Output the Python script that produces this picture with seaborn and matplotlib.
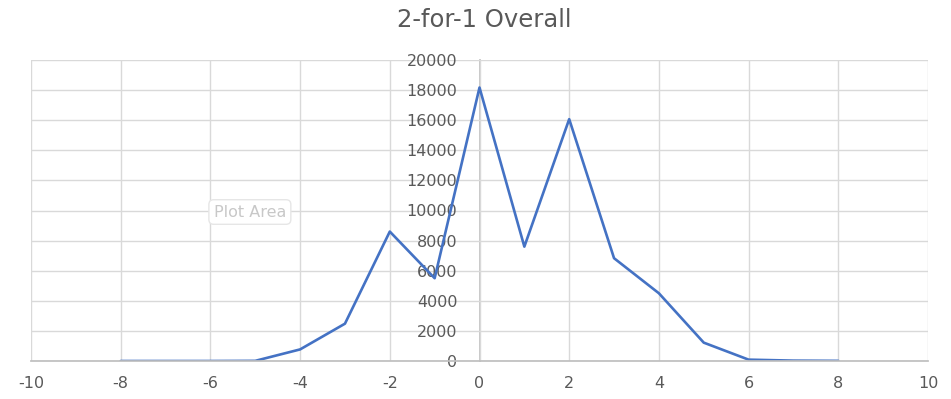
import matplotlib
matplotlib.use("Agg")
import matplotlib.pyplot as plt
import seaborn as sns
import pandas as pd

x_vals = [-8, -7, -6, -5, -4, -3, -2, -1, 0, 1, 2, 3, 4, 5, 6, 7, 8]
counts = [0, 0, 0, 10, 770, 2480, 8600, 5500, 18170, 7600, 16070, 6830, 4500, 1220, 90, 25, 10]
x_ticks = list(range(-10, 11, 2))
y_ticks = list(range(0, 20001, 2000))
title = "2-for-1 Overall"

sns.set_theme(style="white")
plt.rcParams['font.family'] = ['DejaVu Sans']
plt.rcParams['axes.unicode_minus'] = False

df = pd.DataFrame({"x": x_vals, "count": counts})

fig = plt.figure(figsize=(9.51, 3.99), dpi=100)
ax = fig.add_axes([31/951, 1 - 361/399, 897/951, 301/399])

sns.lineplot(data=df, x="x", y="count", ax=ax, color="#4472C4", linewidth=1.9)

ax.set_xlim(-10, 10)
ax.set_ylim(0, 20000)
ax.set_xticks(x_ticks)
ax.set_yticks(y_ticks)
ax.set_xlabel("")
ax.set_ylabel("")
ax.grid(True, color="#D9D9D9", linewidth=1.0)
ax.set_axisbelow(True)

for s in ["top", "right"]:
    ax.spines[s].set_visible(False)
ax.spines["left"].set_position(("data", 0))
ax.spines["left"].set_color("#BFBFBF")
ax.spines["bottom"].set_color("#BFBFBF")
ax.spines["left"].set_zorder(0.5)

ax.tick_params(axis="both", length=0, labelsize=11.5, colors="#595959")
ax.tick_params(axis="y", pad=16)
ax.tick_params(axis="x", pad=11)

fig.text(484/951, 1 - 20/399, title, ha="center", va="center", fontsize=17.5, color="#595959")

ax.text(0.244, 0.495, "Plot Area", transform=ax.transAxes, ha="center", va="center",
        fontsize=11.5, color="#C8C8C8",
        bbox=dict(boxstyle="round,pad=0.3", facecolor="white", edgecolor="#E6E6E6", linewidth=1))

fig.savefig("out.png", dpi=100)
